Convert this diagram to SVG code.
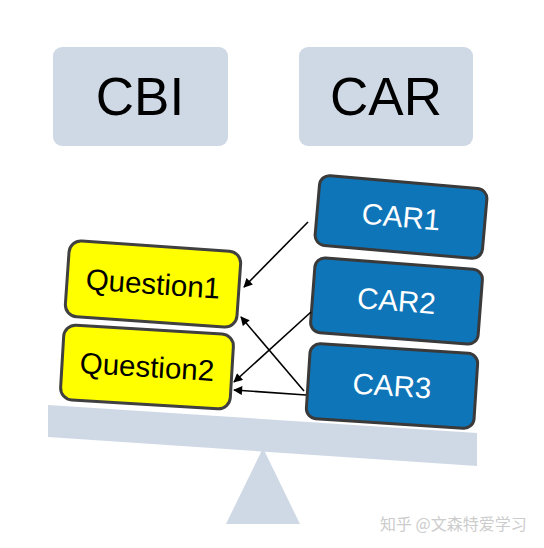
<svg xmlns="http://www.w3.org/2000/svg" width="544" height="548" viewBox="0 0 544 548">
<style>
.hdr{fill:#cfd9e5}
.hdrt{font-family:"Liberation Sans",Arial,sans-serif;font-size:53px;fill:#000;text-anchor:middle}
.q{fill:#ffff00;stroke:#404040;stroke-width:3}
.qt{font-family:"Liberation Sans",Arial,sans-serif;font-size:29.5px;fill:#000;text-anchor:middle}
.c{fill:#0f75b9;stroke:#3a3a3a;stroke-width:3}
.ct{font-family:"Liberation Sans",Arial,sans-serif;font-size:29.5px;fill:#fff;text-anchor:middle}
.base{fill:#cfd9e5}
.ar{stroke:#000;stroke-width:1.6;fill:none;marker-end:url(#ah)}
.wm{font-family:"Noto Sans CJK SC","Noto Sans",sans-serif;font-size:16px;fill:#cccccc}
</style>
<defs>
<marker id="ah" viewBox="0 0 10 10" refX="9" refY="5" markerWidth="10" markerHeight="9" markerUnits="userSpaceOnUse" orient="auto">
<path d="M0,0 L10,5 L0,10 Z" fill="#000"/>
</marker>
</defs>
<g id="scale">
<polygon class="base" points="263,448 300,524 226,524"/>
<polygon class="base" points="48,405 477,433 477,466 48,437"/>
</g>
<g id="cbi"><rect class="hdr" x="53" y="47" width="175" height="99" rx="9"/><text class="hdrt" x="140" y="115">CBI</text></g>
<g id="car"><rect class="hdr" x="299" y="47" width="174" height="99" rx="9"/><text class="hdrt" x="386" y="115">CAR</text></g>
<g id="question1" transform="translate(153,284) rotate(4)"><rect class="q" x="-86" y="-38" width="172" height="76" rx="12"/><text class="qt" x="0" y="10">Question1</text></g>
<g id="question2" transform="translate(147,367) rotate(3.4)"><rect class="q" x="-85" y="-37.5" width="170" height="75" rx="12"/><text class="qt" x="0" y="10">Question2</text></g>
<g id="car1" transform="translate(401,217) rotate(5)"><rect class="c" x="-84" y="-35" width="168" height="70" rx="10"/><text class="ct" x="0" y="10">CAR1</text></g>
<g id="car2" transform="translate(396.5,301) rotate(4.4)"><rect class="c" x="-84" y="-37.5" width="168" height="75" rx="10"/><text class="ct" x="0" y="10">CAR2</text></g>
<g id="car3" transform="translate(392,386) rotate(3.7)"><rect class="c" x="-84" y="-37.5" width="168" height="75" rx="10"/><text class="ct" x="0" y="10">CAR3</text></g>
<g id="connectors">
<line class="ar" x1="308" y1="222" x2="244" y2="287"/>
<line class="ar" x1="311" y1="312" x2="234" y2="382"/>
<line class="ar" x1="306" y1="395" x2="234" y2="390"/>
<line class="ar" x1="304" y1="391" x2="241" y2="317"/>
</g>
<text class="wm" x="380" y="530">知乎 @文森特爱学习</text>
</svg>
